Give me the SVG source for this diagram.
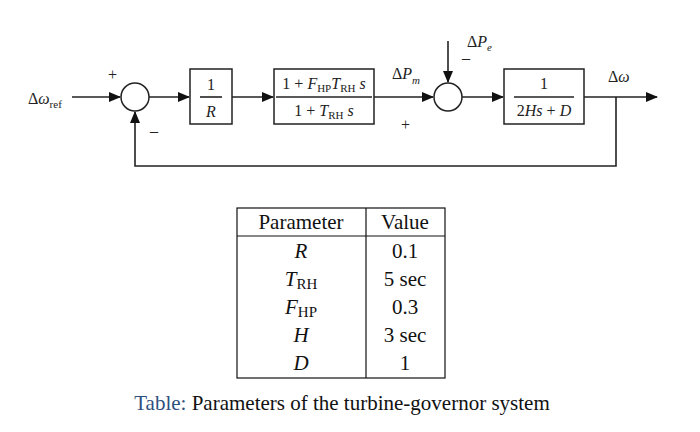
<svg xmlns="http://www.w3.org/2000/svg" width="700" height="432" viewBox="0 0 700 432">
<style>
.l{stroke:#222;stroke-width:1.6;fill:none}
.b{stroke:#222;stroke-width:1.5;fill:#fff}
.t{font-family:"Liberation Serif",serif;fill:#222;font-size:16px}
.i{font-style:italic}
.s{font-size:11px}
.tb{font-family:"Liberation Serif",serif;fill:#111;font-size:21px}
</style>
<defs><marker id="a" markerWidth="12" markerHeight="10" refX="11" refY="5" orient="auto" markerUnits="userSpaceOnUse"><path d="M0,0 L12,5 L0,10z" fill="#111"/></marker></defs>
<rect width="700" height="432" fill="#fff"/>
<g id="connectors">
<path class="l" d="M72,97 H120" marker-end="url(#a)"/>
<path class="l" d="M149,97 H189" marker-end="url(#a)"/>
<path class="l" d="M232,97 H273" marker-end="url(#a)"/>
<path class="l" d="M374,97 H433" marker-end="url(#a)"/>
<path class="l" d="M448,41 V82" marker-end="url(#a)"/>
<path class="l" d="M462,97 H503" marker-end="url(#a)"/>
<path class="l" d="M584,97 H657" marker-end="url(#a)"/>
<path class="l" d="M616,97 V166 H135 V112" marker-end="url(#a)"/>
</g>
<g id="sum1"><circle class="b" cx="135" cy="97" r="14"/></g>
<g id="sum2"><circle class="b" cx="448" cy="97" r="14"/></g>
<g id="gain"><rect class="b" x="190" y="69" width="42" height="55"/><line class="l" x1="200" y1="97" x2="222" y2="97" stroke-width="1"/>
<text class="t" x="211" y="90" text-anchor="middle">1</text><text class="t i" x="211" y="117" text-anchor="middle">R</text></g>
<g id="turbine"><rect class="b" x="274" y="69" width="100" height="55"/><line class="l" x1="276" y1="97" x2="372" y2="97" stroke-width="1"/>
<text class="t" x="324" y="89" text-anchor="middle">1 + <tspan class="i">F</tspan><tspan class="s" dy="3">HP</tspan><tspan class="i" dy="-3">T</tspan><tspan class="s" dy="3">RH</tspan><tspan class="i" dy="-3"> s</tspan></text>
<text class="t" x="324" y="116" text-anchor="middle">1 + <tspan class="i">T</tspan><tspan class="s" dy="3">RH</tspan><tspan class="i" dy="-3"> s</tspan></text></g>
<g id="plant"><rect class="b" x="504" y="69" width="80" height="55"/><line class="l" x1="514" y1="97" x2="574" y2="97" stroke-width="1"/>
<text class="t" x="544" y="89" text-anchor="middle">1</text><text class="t" x="544" y="116" text-anchor="middle">2<tspan class="i">Hs</tspan> + <tspan class="i">D</tspan></text></g>
<g id="labels">
<text class="t" x="28" y="104">Δ<tspan class="i">ω</tspan><tspan class="s" dy="4">ref</tspan></text>
<text class="t" x="108" y="80">+</text>
<text class="t" x="150" y="136">–</text>
<text class="t" x="392" y="79">Δ<tspan class="i">P</tspan><tspan class="s i" dy="5">m</tspan></text>
<text class="t" x="401" y="130">+</text>
<text class="t" x="467" y="47">Δ<tspan class="i">P</tspan><tspan class="s i" dy="4">e</tspan></text>
<text class="t" x="462" y="63">–</text>
<text class="t" x="608" y="82">Δ<tspan class="i">ω</tspan></text>
</g>
<g id="table">
<rect x="237" y="208" width="208" height="170" fill="none" stroke="#111" stroke-width="1.2"/>
<line x1="237" y1="236" x2="445" y2="236" stroke="#111" stroke-width="1.2"/>
<line x1="366" y1="208" x2="366" y2="378" stroke="#111" stroke-width="1.2"/>
<text class="tb" x="301" y="229" text-anchor="middle">Parameter</text>
<text class="tb" x="405" y="229" text-anchor="middle">Value</text>
<g text-anchor="middle">
<text class="tb i" x="301" y="258">R</text><text class="tb" x="405" y="258">0.1</text>
<text class="tb" x="301" y="286"><tspan class="i">T</tspan><tspan font-size="15" dy="3">RH</tspan></text><text class="tb" x="405" y="286">5 sec</text>
<text class="tb" x="301" y="314"><tspan class="i">F</tspan><tspan font-size="15" dy="3">HP</tspan></text><text class="tb" x="405" y="314">0.3</text>
<text class="tb i" x="301" y="342">H</text><text class="tb" x="405" y="342">3 sec</text>
<text class="tb i" x="301" y="370">D</text><text class="tb" x="405" y="370">1</text>
</g>
<text class="tb" x="342" y="410" text-anchor="middle" font-size="20.5"><tspan fill="#2f4f7f">Table:</tspan> Parameters of the turbine-governor system</text>
</g>
</svg>
